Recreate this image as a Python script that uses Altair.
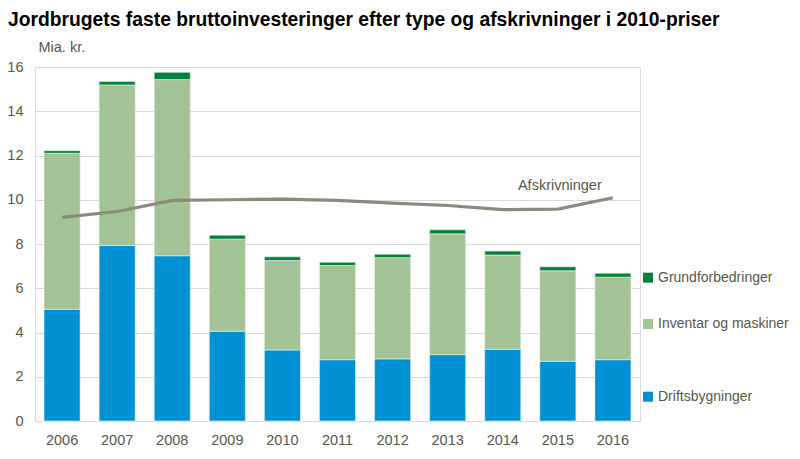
import altair as alt
import pandas as pd

years = [str(y) for y in range(2006, 2017)]
drifts = [5.05, 7.93, 7.47, 4.06, 3.21, 2.77, 2.81, 3.00, 3.24, 2.70, 2.77]
inventar = [7.05, 7.26, 7.96, 4.16, 4.04, 4.26, 4.57, 5.46, 4.26, 4.09, 3.73]
grund = [0.12, 0.16, 0.33, 0.18, 0.17, 0.15, 0.16, 0.18, 0.18, 0.18, 0.18]
afskriv = [9.20, 9.47, 9.97, 10.00, 10.03, 9.97, 9.85, 9.74, 9.55, 9.58, 10.09]
series = ["Driftsbygninger", "Inventar og maskiner", "Grundforbedringer"]
colors = ["#0090d4", "#a3c295", "#00843d"]
y_ticks = [0, 2, 4, 6, 8, 10, 12, 14, 16]
title_text = "Jordbrugets faste bruttoinvesteringer efter type og afskrivninger i 2010-priser"
line_label = "Afskrivninger"
unit_label = "Mia. kr."

rows = []
for i, yr in enumerate(years):
    for k, (name, vals) in enumerate(zip(series, [drifts, inventar, grund])):
        rows.append({"year": yr, "series": name, "value": vals[i], "order": k})
bars_df = pd.DataFrame(rows)
line_df = pd.DataFrame({"year": years, "afskriv": afskriv})

FONT = "Liberation Sans"
FS = 14.5
TXT = "#57574a"

x_enc = alt.X("year:N", title=None,
              scale=alt.Scale(paddingInner=0.345, paddingOuter=0.164),
              axis=alt.Axis(labelAngle=0, domain=False, ticks=False, grid=False, labelPadding=12,
                            labelFont=FONT, labelFontSize=FS, labelColor=TXT))

y_scale = alt.Scale(domain=[0, 16], nice=False)

bars = alt.Chart(bars_df).mark_bar(stroke="#eef3ea", strokeWidth=0.6).encode(
    x=x_enc,
    y=alt.Y("value:Q", stack="zero", scale=y_scale,
            axis=alt.Axis(values=y_ticks, domain=False, ticks=False, labelPadding=12,
                          labelFont=FONT, labelFontSize=FS, labelColor=TXT,
                          gridColor="#d9d9d9", gridWidth=1,
                          title=unit_label, titleAngle=0, titleAlign="left",
                          titleBaseline="middle", titleX=3, titleY=-20,
                          titleFont=FONT, titleFontSize=FS, titleFontWeight="normal",
                          titleColor=TXT)),
    color=alt.Color("series:N", scale=alt.Scale(domain=series, range=colors), legend=None),
    order=alt.Order("order:Q"),
)

line = alt.Chart(line_df).mark_line(color="#8c8a7c", strokeWidth=3.2).encode(
    x=alt.X("year:N"),
    y=alt.Y("afskriv:Q", scale=y_scale),
)

label = alt.Chart(line_df[line_df["year"] == "2015"]).mark_text(
    font=FONT, fontSize=FS, color=TXT, baseline="middle", align="center", dy=-23, dx=2
).encode(x=alt.X("year:N"), y=alt.Y("afskriv:Q", scale=y_scale), text=alt.value(line_label))

legend_layers = []
legend_pos = {"Grundforbedringer": 210.7, "Inventar og maskiner": 257, "Driftsbygninger": 329.7}
for name, col in zip(series, colors):
    d = pd.DataFrame({"label": [name]})
    sq = alt.Chart(d).mark_square(size=100, color=col, opacity=1).encode(
        x=alt.value(613), y=alt.value(legend_pos[name]))
    tx = alt.Chart(d).mark_text(font=FONT, fontSize=14, color=TXT, align="left",
                                baseline="middle").encode(
        x=alt.value(623), y=alt.value(legend_pos[name]), text="label:N")
    legend_layers += [sq, tx]

chart = alt.layer(bars, line, label, *legend_layers).properties(
    width=605, height=354,
    autosize=alt.AutoSizeParams(type="none"),
    padding={"left": 27, "top": 59, "right": 152, "bottom": 30},
    title=alt.Title(title_text, anchor="start", frame="group", dx=-27, offset=9,
                    font="Liberation Sans", fontSize=19.3, fontWeight="bold", color="black"),
).configure_view(stroke=None).configure(background="white")

chart.save("out.html", embed_options={"renderer": "svg", "actions": False})
